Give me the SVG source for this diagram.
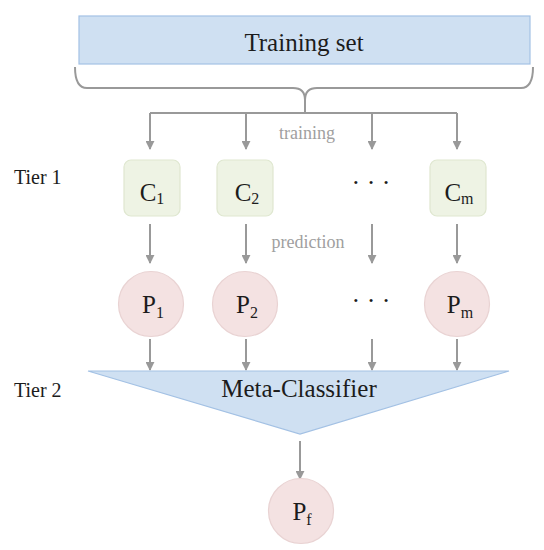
<svg xmlns="http://www.w3.org/2000/svg" width="544" height="550" viewBox="0 0 544 550" font-family="'Liberation Serif', serif">
<style>
text{font-family:'Liberation Serif',serif;fill:#1c1c1c}
.lbl{font-size:25px;text-anchor:middle}
.sub{font-size:16px}
.tier{font-size:20px}
.note{font-size:18px;fill:#a0a0a0;text-anchor:middle}
.dots{font-size:26px;text-anchor:middle}
.cbox{fill:#eef3e4;stroke:#dfe7d0;stroke-width:1.2}
.pcirc{fill:#f4e2e2;stroke:#e9d3d3;stroke-width:1.2}
.blue{fill:#cfe0f2;stroke:#a3c1e4;stroke-width:1.2}
.conn{stroke:#999;stroke-width:2;fill:none}
</style>
<defs>
<marker id="ah" viewBox="0 0 10 10" refX="9" refY="5" markerWidth="4.5" markerHeight="4.5" orient="auto" markerUnits="strokeWidth">
<path d="M0,0 L10,5 L0,10 z" fill="#999"/>
</marker>
</defs>
<rect width="544" height="550" fill="#fff"/>
<g id="training-set">
<rect class="blue" x="79" y="16" width="451" height="48"/>
<text class="lbl" x="304" y="51">Training set</text>
</g>
<g id="tier-labels">
<text class="tier" x="14" y="184">Tier 1</text>
<text class="tier" x="14" y="397">Tier 2</text>
</g>
<g id="connectors">
<path class="conn" d="M75,67 Q75,88 87,88 L293,88 Q305,88 305,100 L305,113 M305,100 Q305,88 317,88 L521,88 Q533,88 533,67"/>
<path class="conn" d="M150,113 L457,113"/>
<path class="conn" marker-end="url(#ah)" d="M150,113 L150,149"/>
<path class="conn" marker-end="url(#ah)" d="M246,113 L246,149"/>
<path class="conn" marker-end="url(#ah)" d="M372,113 L372,149"/>
<path class="conn" marker-end="url(#ah)" d="M457,113 L457,149"/>
<path class="conn" marker-end="url(#ah)" d="M150,224 L150,263"/>
<path class="conn" marker-end="url(#ah)" d="M246,224 L246,263"/>
<path class="conn" marker-end="url(#ah)" d="M372,224 L372,263"/>
<path class="conn" marker-end="url(#ah)" d="M457,224 L457,263"/>
<path class="conn" marker-end="url(#ah)" d="M150,339 L150,370"/>
<path class="conn" marker-end="url(#ah)" d="M246,339 L246,370"/>
<path class="conn" marker-end="url(#ah)" d="M372,339 L372,370"/>
<path class="conn" marker-end="url(#ah)" d="M457,339 L457,370"/>
<path class="conn" marker-end="url(#ah)" d="M300,441 L300,479"/>
<text class="note" x="307" y="139">training</text>
<text class="note" x="308" y="248">prediction</text>
</g>
<g id="C1">
<rect class="cbox" x="124" y="160" width="56" height="56" rx="7"/>
<text class="lbl" x="152" y="201">C<tspan class="sub" dy="3">1</tspan></text>
</g>
<g id="C2">
<rect class="cbox" x="217" y="160" width="56" height="56" rx="7"/>
<text class="lbl" x="247" y="201">C<tspan class="sub" dy="3">2</tspan></text>
</g>
<g id="Cdots">
<text class="dots" x="371" y="191">· · ·</text>
</g>
<g id="Cm">
<rect class="cbox" x="430" y="160" width="56" height="56" rx="7"/>
<text class="lbl" x="459" y="201">C<tspan class="sub" dy="3">m</tspan></text>
</g>
<g id="P1">
<circle class="pcirc" cx="151" cy="304" r="32.5"/>
<text class="lbl" x="153" y="313">P<tspan class="sub" dy="5">1</tspan></text>
</g>
<g id="P2">
<circle class="pcirc" cx="245" cy="304" r="32.5"/>
<text class="lbl" x="247" y="313">P<tspan class="sub" dy="5">2</tspan></text>
</g>
<g id="Pdots">
<text class="dots" x="371" y="309">· · ·</text>
</g>
<g id="Pm">
<circle class="pcirc" cx="457" cy="304" r="32.5"/>
<text class="lbl" x="460" y="313">P<tspan class="sub" dy="5">m</tspan></text>
</g>
<g id="meta-classifier">
<polygon class="blue" points="88,371 509,371 300,434"/>
<text class="lbl" x="299" y="397">Meta-Classifier</text>
</g>
<g id="Pf">
<circle class="pcirc" cx="301" cy="511" r="32.5"/>
<text class="lbl" x="302" y="520">P<tspan class="sub" dy="5">f</tspan></text>
</g>
</svg>
